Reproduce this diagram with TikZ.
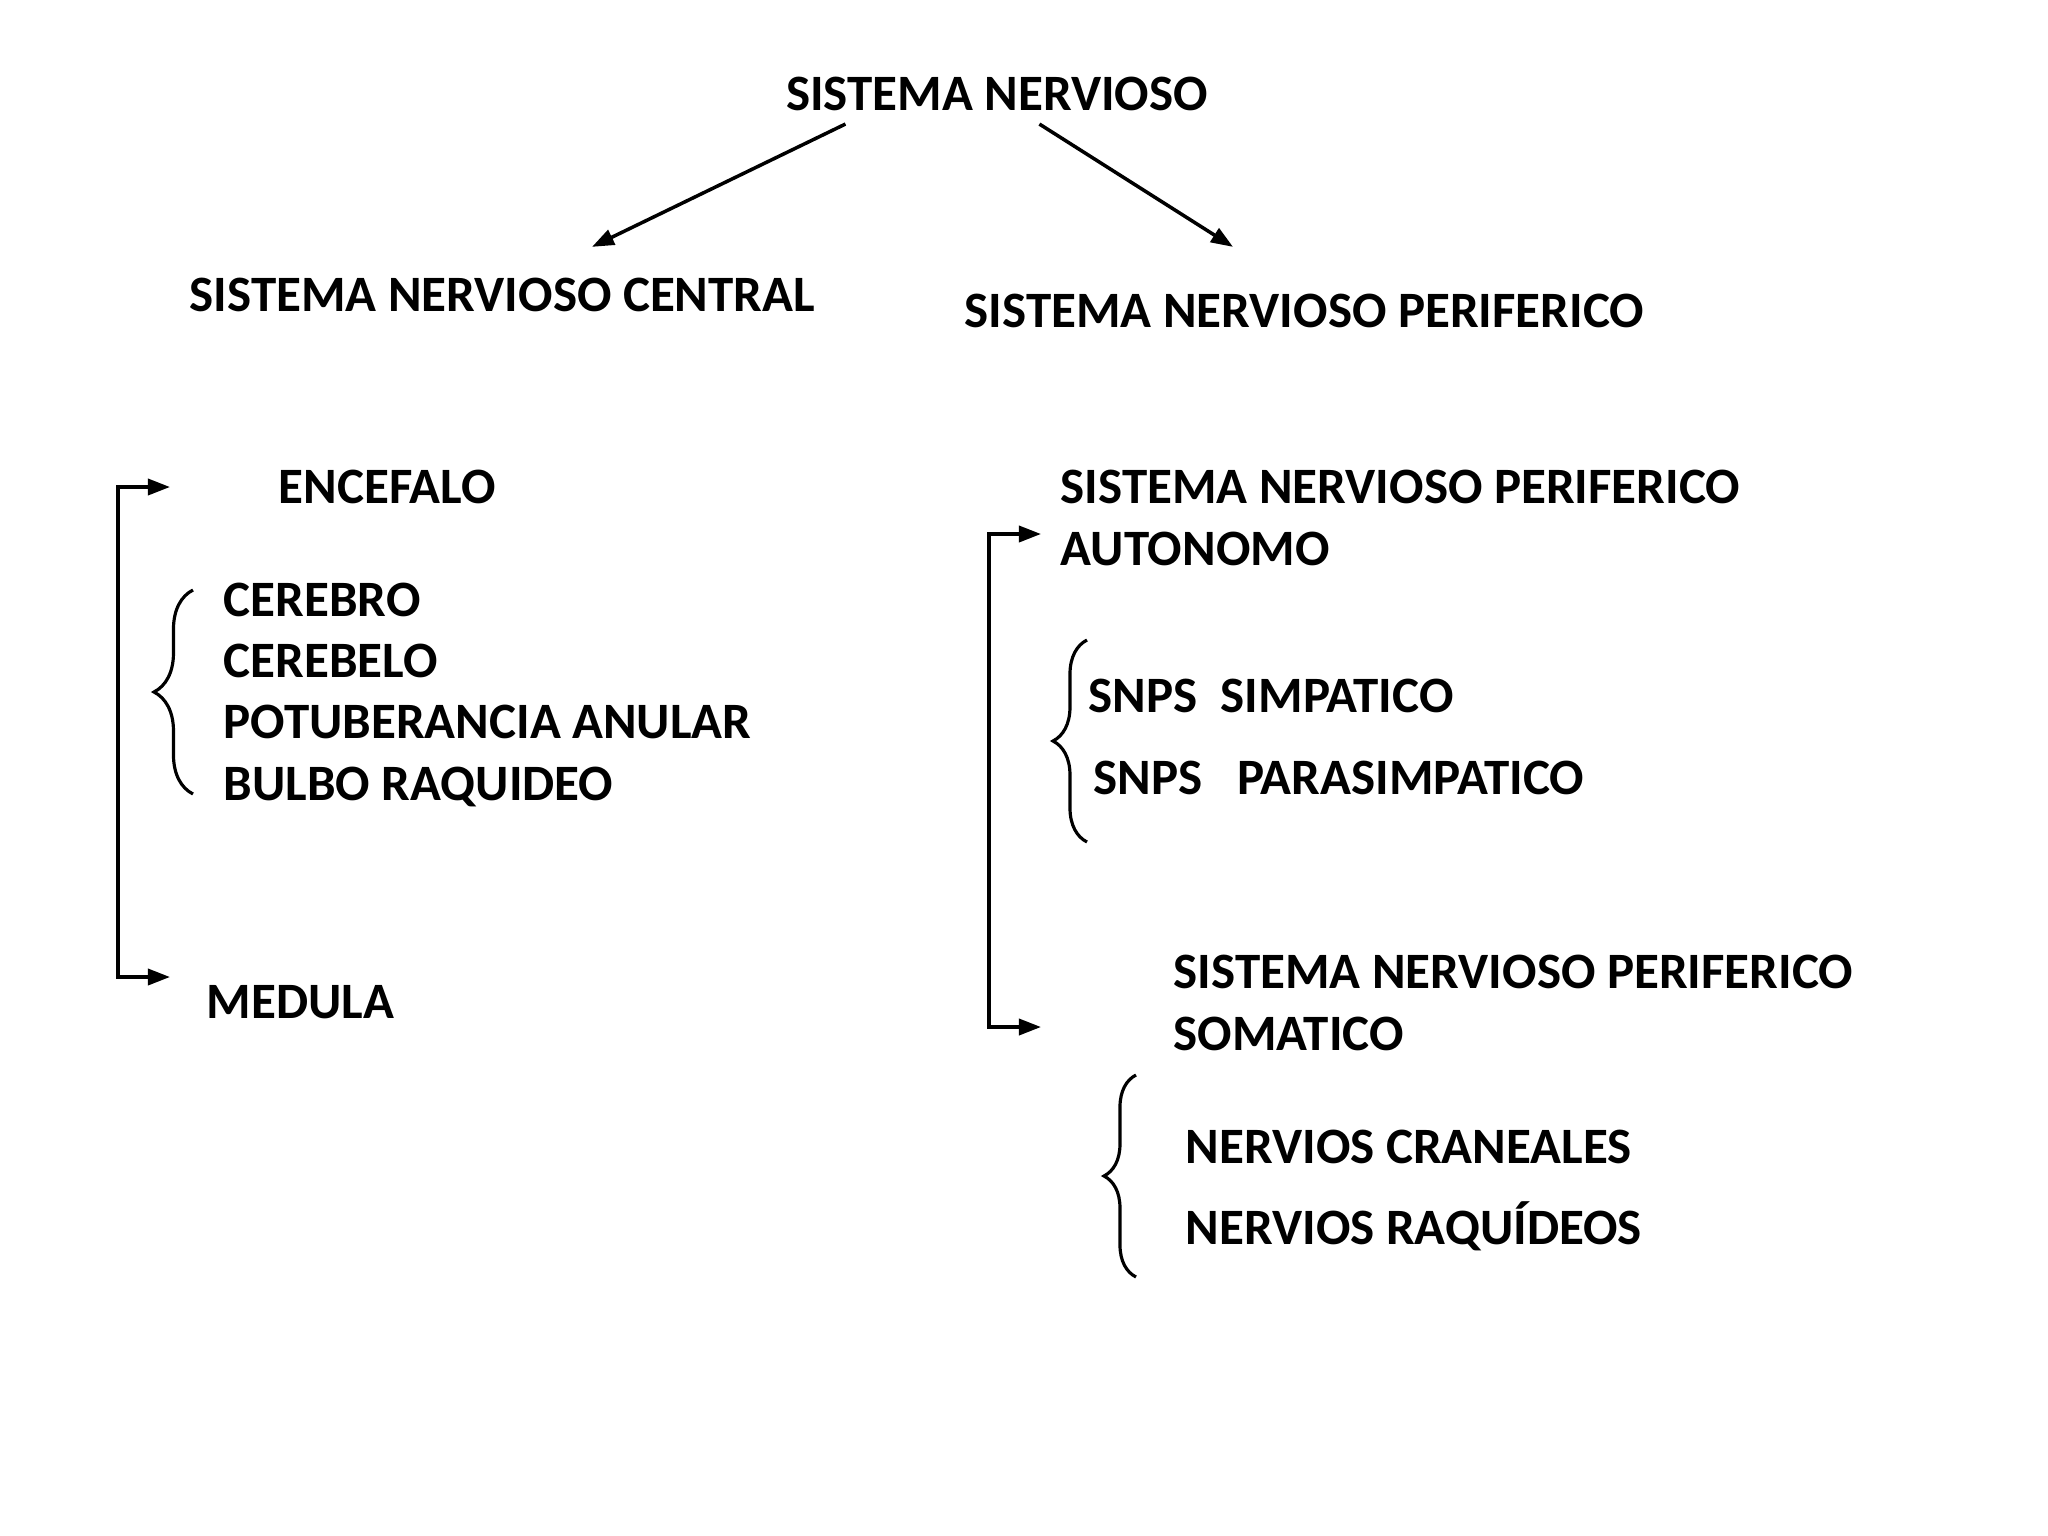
\documentclass[tikz,border=0pt]{standalone}
\usepackage{fontspec}
\setmainfont{Carlito}
\usetikzlibrary{arrows.meta, calc, decorations.pathreplacing}

\begin{document}
\begin{tikzpicture}[
    x=0.01cm, y=-0.01cm,
    conn/.style={-{Triangle[length=2.2mm, width=1.6mm]}, line width=1pt},
    fork/.style={{Triangle[length=2.2mm, width=1.6mm]}-{Triangle[length=2.2mm, width=1.6mm]}, line width=1pt},
    brc/.style={decorate, decoration={brace, amplitude=#1}, line width=0.9pt},
    lbl/.style={font=\fontsize{14.5}{17.5}\selectfont\bfseries, anchor=base west, inner sep=0pt, align=left},
  ]
  \useasboundingbox (0,0) rectangle (2048,1536);

  % top level
  \node[lbl, anchor=base] (sn) at (997,110) {SISTEMA NERVIOSO};
  \node[lbl] (snc) at (189,311) {SISTEMA NERVIOSO CENTRAL};
  \node[lbl] (snp) at (964,327) {SISTEMA NERVIOSO PERIFERICO};
  \draw[conn] ($(sn.south west)+(60,13)$) -- ($(snc.north west)+(403,-30)$);
  \draw[conn] ($(sn.south west)+(254,13)$) -- ($(snp.north west)+(269,-46)$);

  % central
  \node[lbl] (enc) at (278,503) {ENCEFALO};
  \foreach \yy/\nm/\txt in {616/cer/CEREBRO, 677/cbl/CEREBELO,
      738/pot/POTUBERANCIA ANULAR, 800/bul/BULBO RAQUIDEO}
    \node[lbl] (\nm) at (223,\yy) {\txt};
  \node[lbl] (med) at (206,1018) {MEDULA};
  \coordinate (encA) at (170,487);
  \coordinate (medA) at (170,977);
  \coordinate (cbar) at (118,732);
  \draw[fork] (encA) -| (cbar) |- (medA);
  \draw[brc=3.9mm] (193,794) -- (193,590);

  % periferico
  \node[lbl] (sna) at (1060,565) {SISTEMA NERVIOSO PERIFERICO\\AUTONOMO};
  \node[lbl] (simp) at (1088,712) {SNPS\ \ SIMPATICO};
  \node[lbl] (para) at (1093,794) {SNPS\ \ \ PARASIMPATICO};
  \node[lbl] (sns) at (1173,1050) {SISTEMA NERVIOSO PERIFERICO\\SOMATICO};
  \node[lbl] (crn) at (1185,1163) {NERVIOS CRANEALES};
  \node[lbl] (raq) at (1185,1244) {NERVIOS RAQUÍDEOS};
  \coordinate (snaA) at (1041,534);
  \coordinate (snsA) at (1041,1027);
  \coordinate (pbar) at (989,780);
  \draw[fork] (snaA) -| (pbar) |- (snsA);
  \draw[brc=3.4mm] (1087,842) -- (1087,640);
  \draw[brc=3.2mm] (1136,1277) -- (1136,1075);
\end{tikzpicture}
\end{document}
